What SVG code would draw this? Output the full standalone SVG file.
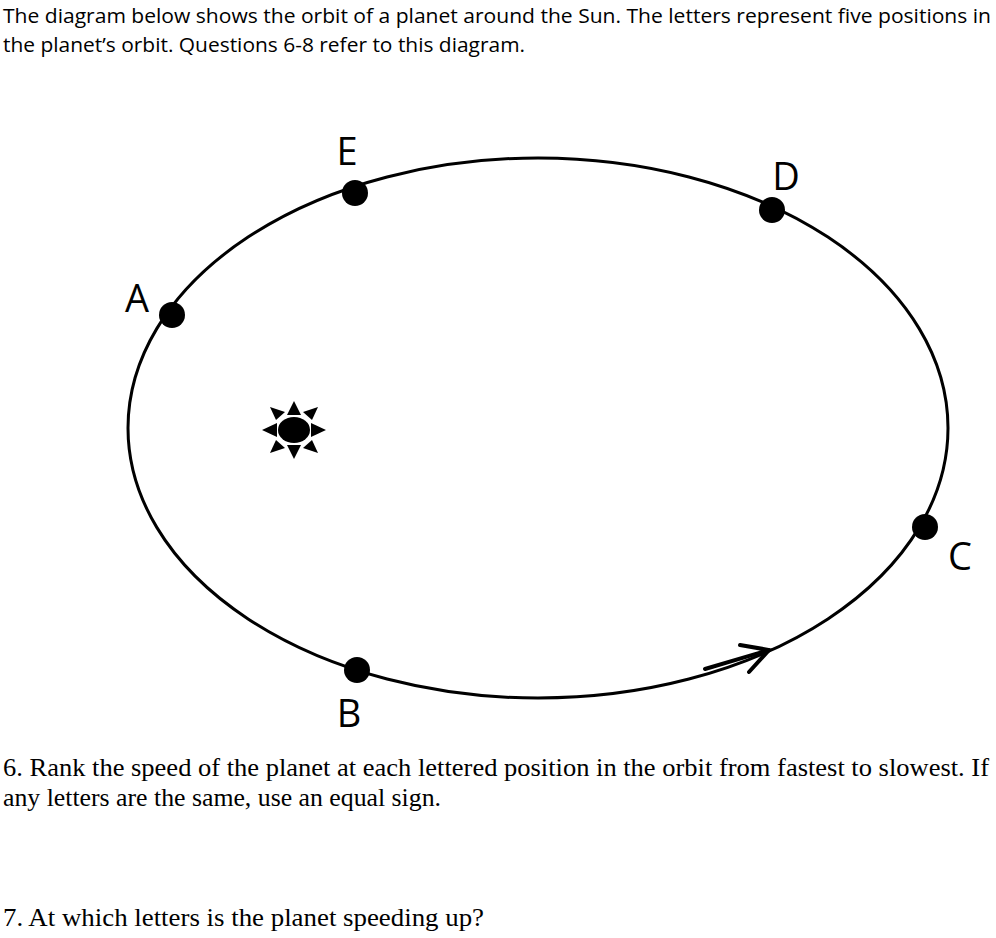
<svg xmlns="http://www.w3.org/2000/svg" width="996" height="938" viewBox="0 0 996 938">
<style>
.t{font-family:"Open Sans","Liberation Sans",sans-serif;font-size:20px;fill:#000}
.q{font-family:"Liberation Serif",serif;font-size:25px;fill:#000}
.l{font-family:"Open Sans","Liberation Sans",sans-serif;font-size:38px;fill:#000}
.p{fill:#000}
</style>
<rect width="996" height="938" fill="#fff"/>
<text class="t" x="3" y="23" textLength="988" lengthAdjust="spacingAndGlyphs">The diagram below shows the orbit of a planet around the Sun.  The letters represent five positions in</text>
<text class="t" x="3" y="52" textLength="522" lengthAdjust="spacingAndGlyphs">the planet’s orbit.  Questions 6-8 refer to this diagram.</text>
<g id="connectors">
<ellipse cx="538" cy="428" rx="410" ry="270" fill="none" stroke="#000" stroke-width="3"/>
<path d="M705 669 L769 650 M740 645 L769 650 L749 672" fill="none" stroke="#000" stroke-width="4" stroke-linecap="round"/>
</g>
<g id="sun">
<ellipse cx="294" cy="430" rx="16" ry="13" fill="#000"/>
<g fill="#000">
<polygon points="287,415 301,415 294,401"/>
<polygon points="287,445 301,445 294,459"/>
<polygon points="277,423 277,437 262,430"/>
<polygon points="311,423 311,437 326,430"/>
<polygon points="276,420 285,412 270,407"/>
<polygon points="312,420 303,412 318,407"/>
<polygon points="276,440 285,448 270,453"/>
<polygon points="312,440 303,448 318,453"/>
</g>
</g>
<g id="E"><circle class="p" cx="355" cy="193" r="13"/><text class="l" x="347" y="165" text-anchor="middle">E</text></g>
<g id="D"><circle class="p" cx="772" cy="210" r="13"/><text class="l" x="786" y="190" text-anchor="middle">D</text></g>
<g id="A"><circle class="p" cx="172" cy="315" r="13"/><text class="l" x="137" y="312" text-anchor="middle">A</text></g>
<g id="C"><circle class="p" cx="925" cy="527" r="13"/><text class="l" x="960" y="570" text-anchor="middle">C</text></g>
<g id="B"><circle class="p" cx="357" cy="670" r="13"/><text class="l" x="349" y="727" text-anchor="middle">B</text></g>
<text class="q" x="3" y="776" textLength="986" lengthAdjust="spacingAndGlyphs">6.  Rank the speed of the planet at each lettered position in the orbit from fastest to slowest.  If</text>
<text class="q" x="3" y="806" textLength="438" lengthAdjust="spacingAndGlyphs">any letters are the same, use an equal sign.</text>
<text class="q" x="3" y="926" textLength="481" lengthAdjust="spacingAndGlyphs">7. At which letters is the planet speeding up?</text>
</svg>
